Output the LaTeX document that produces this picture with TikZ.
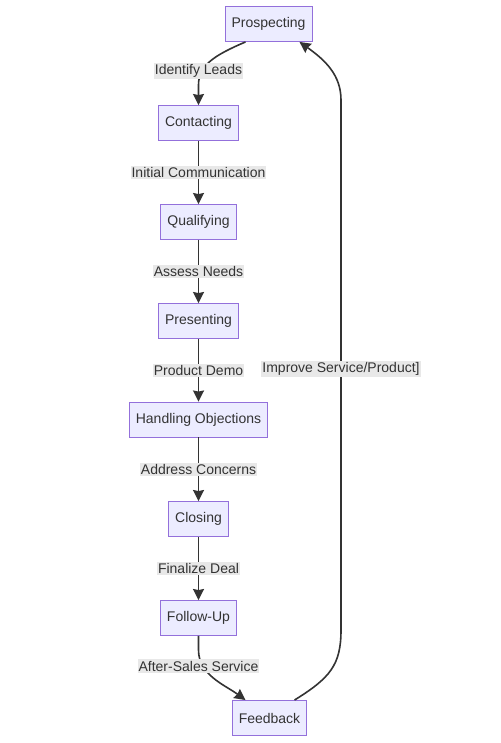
\documentclass[tikz,border=0pt]{standalone}
\usepackage{fontspec}
\setmainfont{Liberation Sans}
\usetikzlibrary{arrows.meta}
\definecolor{boxfill}{HTML}{ECECFF}
\definecolor{boxline}{HTML}{9370DB}
\definecolor{edge}{HTML}{333333}
\definecolor{lblfill}{HTML}{E8E8E8}
\begin{document}
\begin{tikzpicture}[x=1pt, y=-1pt]
\tikzset{etape/.style={draw=boxline, fill=boxfill, line width=0.9pt, minimum height=35pt, inner xsep=6.5pt, font=\fontsize{14}{16}\selectfont, text=edge},
  lien/.style={draw=edge, line width=1.6pt, -{Stealth[length=11pt, width=11pt, inset=1pt]}},
  etiq/.style={fill=lblfill, inner xsep=1pt, inner ysep=1.5pt, font=\fontsize{14}{16}\selectfont, text=edge}}
\useasboundingbox (0, 0) rectangle (500, 743);
\node[etape] (P1) at (268.5, 24) {Prospecting};
\node[etape] (P2) at (198.5, 123) {Contacting};
\node[etape] (P3) at (198.5, 222) {Qualifying};
\node[etape] (P4) at (198.5, 321) {Presenting};
\node[etape] (P5) at (198.5, 419.5) {Handling Objections};
\node[etape] (P6) at (198.5, 519) {Closing};
\node[etape] (P7) at (198.5, 618) {Follow-Up};
\node[etape] (P8) at (269.5, 718) {Feedback};
\draw[lien] (P1.south) ++(-23, 0) .. controls (215, 55) and (198.5, 65) .. (198.5, 85) -- (P2.north);
\draw[lien] (P2) -- node[etiq] {Initial Communication} (P3);
\draw[lien] (P3) -- node[etiq] {Assess Needs} (P4);
\draw[lien] (P4) -- node[etiq] {Product Demo} (P5);
\draw[lien] (P5) -- node[etiq] {Address Concerns} (P6);
\draw[lien] (P6) -- node[etiq] {Finalize Deal} (P7);
\draw[lien] (P7.south) -- (198.5, 650) .. controls (198.5, 675) and (225, 685) .. ([xshift=-24pt]P8.north);
\draw[lien] ([xshift=25pt]P8.north) .. controls (330, 678) and (341, 665) .. (341, 630) -- (341, 100) .. controls (341, 75) and (325, 60) .. ([xshift=31pt]P1.south);
\node[etiq] (L1) at (198.5, 71) {Identify Leads};
\node[etiq] (L7) at (198.5, 666) {After-Sales Service};
\node[etiq] (L8) at (341, 369) {Improve Service/Product]};
\end{tikzpicture}
\end{document}
